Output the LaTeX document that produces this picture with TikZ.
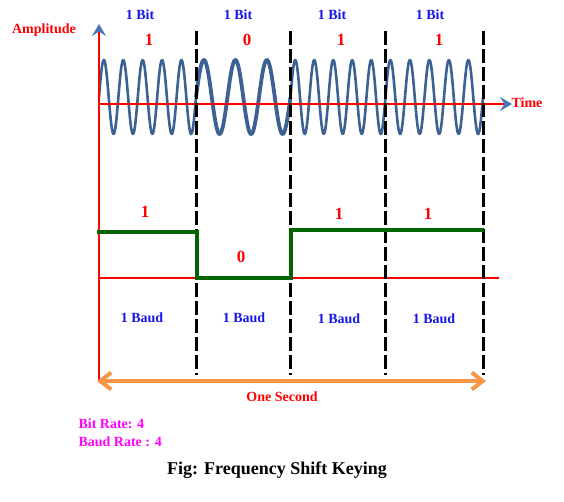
\documentclass[tikz,border=0pt]{standalone}
\usepackage{fontspec}
\setmainfont{Liberation Serif}
\usetikzlibrary{arrows.meta}
\definecolor{ondaazul}{RGB}{60,98,148}
\definecolor{flechaazul}{RGB}{70,120,180}
\definecolor{verdesenal}{RGB}{0,100,0}
\definecolor{naranja}{RGB}{247,150,70}
\definecolor{textoazul}{RGB}{20,20,235}
\definecolor{rosa}{RGB}{255,0,255}
\begin{document}
\begin{tikzpicture}[x=1pt,y=-1pt,
	eje/.style={red,line width=2pt},
	punta/.style={-{Stealth[flechaazul,length=12pt,width=14pt,inset=4.5pt]}},
	divisor/.style={black,line width=3pt,dash pattern=on 14pt off 4pt},
	onda/.style={ondaazul,line width=2.6pt,line join=round},
	senal/.style={verdesenal,line width=3.4pt},
	chico/.style={font=\bfseries\fontsize{14}{16}\selectfont},
	grande/.style={font=\bfseries\fontsize{17}{19}\selectfont,text=red}]
	\useasboundingbox (0,0) rectangle (564,502);

% onda FSK
	\foreach \xa/\xb/\n/\w in {99/196/5/2.6, 196/290.5/3/3.8, 290.5/385.5/5/2.6, 385.5/483/5/2.6}
		\draw[onda,line width=\w pt] plot[domain=0:1,samples=160]
			({\xa+(\xb-\xa)*\x},{97-37*sin(360*\n*\x)});

% ejes
	\coordinate (O) at (99,104);
	\coordinate (arriba) at (99,24);
	\coordinate (abajo) at (99,380);
	\coordinate (tiempo) at (512,104);
	\coordinate (O2) at (99,278);
	\coordinate (fin2) at (499,278);
	\draw[eje] (abajo) -- (O);
	\draw[eje,punta] (O) -- (arriba);
	\draw[eje,punta] (O) -- (tiempo);
	\draw[eje] (O2) -- (fin2);

% divisiones
	\foreach \x [count=\i] in {196, 290.5, 385.5, 483}
		\draw[divisor] (\x,31) coordinate (d\i a) -- (\x,375) coordinate (d\i b);

% senal digital
	\coordinate (s0) at (97,232);
	\coordinate (s1) at (197,232);
	\coordinate (s2) at (197,278);
	\coordinate (s3) at (291,278);
	\coordinate (s4) at (291,230);
	\coordinate (s5) at (484,230);
	\draw[senal] (s0) -- (s1) -- (s2) -- (s3) -- (s4) -- (s5);

% textos
	\node[chico,text=red] (amp) at (44,30) {Amplitude};
	\node[chico,text=red] (time) at (527,103) {Time};
	\foreach \x/\b [count=\i] in {140/1, 238/0, 332/1, 430/1} {
		\node[chico,text=textoazul] (bit\i) at (\x,15) {1 Bit};
		\node[grande] (val\i) at (\x+9,40) {\b};
	}
	\foreach \x/\y/\b [count=\i] in {145/212/1, 241/257/0, 339/214/1, 428/214/1}
		\node[grande] (nivel\i) at (\x,\y) {\b};
	\foreach \x/\y [count=\i] in {142/318, 244/318, 339/319, 434/319}
		\node[chico,text=textoazul] (baud\i) at (\x,\y) {1 Baud};

% un segundo
	\coordinate (izq) at (97,381);
	\coordinate (der) at (486,381);
	\draw[naranja,line width=4pt,line cap=round,{Straight Barb[length=11pt,width=17pt]}-{Straight Barb[length=11pt,width=17pt]}] (izq) -- (der);
	\node[chico,text=red] (seg) at (282,397) {One Second};
	\node[chico,text=rosa,anchor=west] (bitrate) at (75,424) {Bit Rate: 4};
	\node[chico,text=rosa,anchor=west] (baudrate) at (75,442) {Baud Rate : 4};
	\node[font=\bfseries\fontsize{18}{20}\selectfont] (fig) at (277,470) {Fig: Frequency Shift Keying};
\end{tikzpicture}
\end{document}
